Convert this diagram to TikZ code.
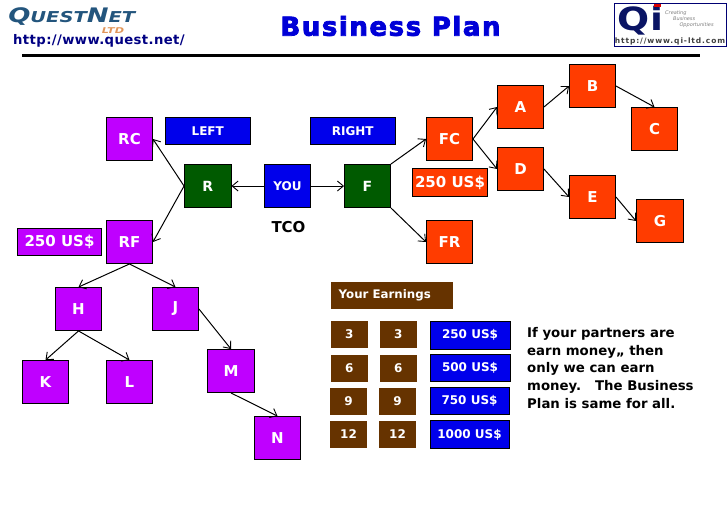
\documentclass[tikz,border=0pt]{standalone}
\usepackage{fontspec}
\setmainfont{DejaVu Sans}[BoldFont={DejaVu Sans Bold}]
\usetikzlibrary{arrows.meta}
\definecolor{pur}{RGB}{191,0,255}
\definecolor{org}{RGB}{255,60,0}
\definecolor{grn}{RGB}{0,90,0}
\definecolor{blu}{RGB}{0,0,235}
\definecolor{brn}{RGB}{102,51,0}
\definecolor{logob}{RGB}{35,85,125}
\definecolor{logoo}{RGB}{225,150,90}
\definecolor{ttl}{RGB}{0,0,215}
\definecolor{urlc}{RGB}{0,0,130}
\definecolor{qin}{RGB}{10,20,100}
\tikzset{
  bx/.style={draw=black,line width=0.9pt,inner sep=0pt,text=white,font=\bfseries\fontsize{15}{15}\selectfont,align=center},
  purb/.style={bx,fill=pur},
  orgb/.style={bx,fill=org},
  grnb/.style={bx,fill=grn,font=\bfseries\fontsize{14}{14}\selectfont},
  blub/.style={bx,fill=blu,font=\bfseries\fontsize{12}{12}\selectfont},
  brnb/.style={bx,draw=none,fill=brn,font=\bfseries\fontsize{12}{12}\selectfont},
  link/.style={draw=black,line width=1pt,-{Straight Barb[length=6pt,width=10pt,line width=0.9pt]}},
}
% name, x1, y1, x2, y2, style, text
\newcommand{\bxn}[7]{\node[#6,minimum width=#4pt-#2pt,minimum height=#5pt-#3pt] (#1) at ({(#2+#4)/2},{(#3+#5)/2}) {\raisebox{-1.1pt}{#7}};}
\begin{document}
\begin{tikzpicture}[x=1pt,y=-1pt]
\useasboundingbox (0,0) rectangle (728,504);
% header
\node[font=\bfseries\itshape\fontsize{15}{15}\selectfont,text=logob,inner sep=0pt,anchor=base west,xscale=1.3] (logoa) at (8,22.5) {{\fontsize{20}{20}\selectfont Q}UEST{\fontsize{20}{20}\selectfont N}ET};
\node[font=\bfseries\itshape\fontsize{8}{8}\selectfont,text=logoo,inner sep=0pt,xscale=1.4,anchor=base] (logob) at (113,33) {LTD};
\node[font=\bfseries\fontsize{13.2}{13.2}\selectfont,text=urlc,inner sep=0pt,anchor=west] (url) at (13,40.5) {\addfontfeature{LetterSpace=3}http://www.quest.net/};
\node[font=\bfseries\fontsize{26}{26}\selectfont,text=ttl,inner sep=0pt] (title) at (390.5,26) {\addfontfeature{LetterSpace=6,FakeBold=3}Business Plan};
\draw[line width=2.2pt] (22,55.5) -- (700,55.5);
% QI logo
\node[draw=black!55!blue,line width=0.6pt,fill=white,minimum width=112pt,minimum height=43pt,inner sep=0pt] (qibox) at (670,24.5) {};
\node[font=\bfseries\fontsize{32}{32}\selectfont,text=qin,inner sep=0pt,xscale=1.18,anchor=base] (qi) at (640.5,30) {Qi};
\fill[red!85!black] (654,3.5) rectangle (661,6.5);
\node[font=\itshape\fontsize{5}{6}\selectfont,text=black!50,inner sep=0pt,align=left,anchor=west] (qit) at (665,19) {Creating\\\ \ \ \ \ Business\\\ \ \ \ \ \ \ \ \ Opportunities};
\node[font=\bfseries\fontsize{7.5}{7.5}\selectfont,text=black!75,inner sep=0pt] (qiu) at (670,41.5) {\addfontfeature{LetterSpace=12}http://www.qi-ltd.com};
% left side
\bxn{RC}{106.5}{117.5}{152.5}{160.5}{purb}{RC}
\bxn{RF}{106.5}{220.5}{152.5}{263.5}{purb}{RF}
\bxn{usl}{17.5}{228.5}{101.5}{255.5}{purb}{250 US\$}
\bxn{H}{55.5}{287.5}{101.5}{330.5}{purb}{H}
\bxn{J}{152.5}{287.5}{198.5}{330.5}{purb}{J}
\bxn{K}{22.5}{360.5}{68.5}{403.5}{purb}{K}
\bxn{L}{106.5}{360.5}{152.5}{403.5}{purb}{L}
\bxn{M}{207.5}{349.5}{254.5}{392.5}{purb}{M}
\bxn{N}{254.5}{416.5}{300.5}{459.5}{purb}{N}
% centre
\bxn{LEFT}{165}{117.5}{250.5}{144.5}{blub}{LEFT}
\bxn{RIGHT}{310}{117.5}{395.5}{144.5}{blub}{RIGHT}
\bxn{R}{184.5}{164.5}{231}{207.5}{grnb}{R}
\bxn{YOU}{264.5}{164.5}{310.5}{207.5}{blub}{YOU}
\bxn{F}{344.5}{164.5}{390.5}{207.5}{grnb}{F}
\node[font=\bfseries\fontsize{15}{15}\selectfont,inner sep=0pt] (TCO) at (288.5,227.5) {TCO};
% right side
\bxn{FC}{426.5}{117.5}{472.5}{160.5}{orgb}{FC}
\bxn{FR}{426.5}{220.5}{472.5}{263.5}{orgb}{FR}
\bxn{usr}{412.5}{168.5}{487.5}{196.5}{orgb}{250 US\$}
\bxn{A}{497.5}{85.5}{543.5}{128.5}{orgb}{A}
\bxn{B}{569.5}{64.5}{615.5}{107.5}{orgb}{B}
\bxn{C}{631.5}{107.5}{677.5}{150.5}{orgb}{C}
\bxn{D}{497.5}{147.5}{543.5}{190.5}{orgb}{D}
\bxn{E}{569.5}{175.5}{615.5}{218.5}{orgb}{E}
\bxn{G}{636.5}{199.5}{683.5}{242.5}{orgb}{G}
% earnings
\bxn{earn}{331}{282}{452.5}{309}{brnb}{\hspace*{-14pt}\raisebox{-1.5pt}{\fontsize{11.8}{12}\selectfont Your Earnings}}
\bxn{a1}{331}{321}{367.5}{348}{brnb}{3}
\bxn{b1}{380}{321}{416.5}{348}{brnb}{3}
\bxn{c1}{430}{321}{510}{349}{blub}{250 US\$}
\bxn{a2}{331}{354.5}{367.5}{381.5}{brnb}{6}
\bxn{b2}{380}{354.5}{416.5}{381.5}{brnb}{6}
\bxn{c2}{430}{354}{510}{381.5}{blub}{500 US\$}
\bxn{a3}{330}{387.5}{367}{414.5}{brnb}{9}
\bxn{b3}{379}{387.5}{416}{414.5}{brnb}{9}
\bxn{c3}{430}{387}{509}{414.5}{blub}{750 US\$}
\bxn{a4}{330}{421}{367}{448}{brnb}{12}
\bxn{b4}{379}{421}{416}{448}{brnb}{12}
\bxn{c4}{430}{420.5}{509}{448.5}{blub}{1000 US\$}
\node[font=\bfseries\fontsize{13.3}{17.7}\selectfont,inner sep=0pt,anchor=north west,align=left] (para) at (527,327) {If your partners are\\earn money,, then\\only we can earn\\money.~~~The Business\\Plan is same for all.};
% connectors
\draw[link] (YOU.west) -- (R.east);
\draw[link] (R.west) -- (RC.east);
\draw[link] (R.west) -- (RF.east);
\draw[link] (RF.south) -- (H.north);
\draw[link] (RF.south) -- (J.north);
\draw[link] (H.south) -- (K.north);
\draw[link] (H.south) -- (L.north);
\draw[link] (J.east) -- (M.north);
\draw[link] (M.south) -- (N.north);
\draw[link] (YOU.east) -- (F.west);
\draw[link] (F.north east) -- (FC.west);
\draw[link] (F.south east) -- (FR.west);
\draw[link] (FC.east) -- (A.west);
\draw[link] (FC.east) -- (D.west);
\draw[link] (A.east) -- (B.west);
\draw[link] (B.east) -- (C.north);
\draw[link] (D.east) -- (E.west);
\draw[link] (E.east) -- (G.west);
\end{tikzpicture}
\end{document}
